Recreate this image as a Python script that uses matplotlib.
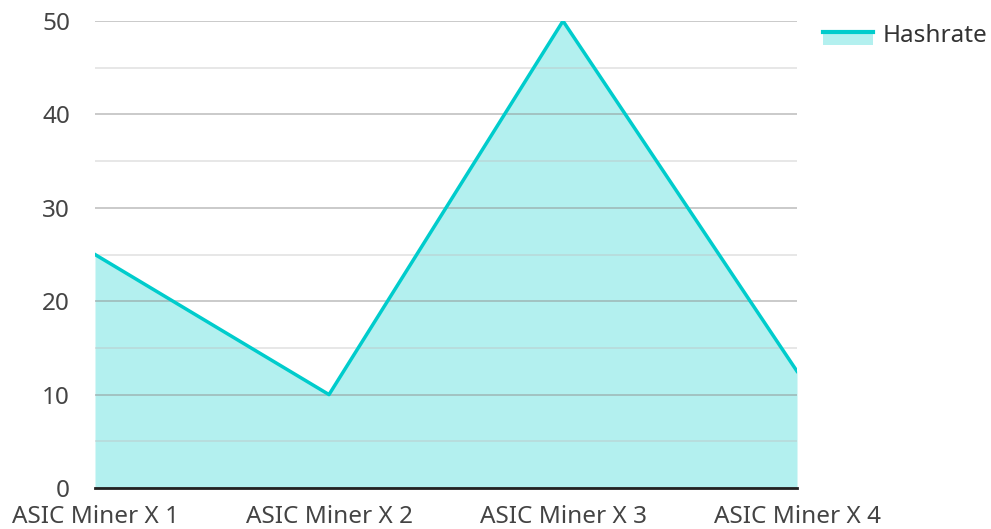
import matplotlib
matplotlib.use('Agg')
import matplotlib.pyplot as plt
import matplotlib.patches as mpatches
from matplotlib.lines import Line2D
from matplotlib.legend_handler import HandlerBase
from matplotlib.ticker import MultipleLocator

plt.rcParams['font.family'] = ['Noto Sans', 'DejaVu Sans']

categories = ['ASIC Miner X 1', 'ASIC Miner X 2', 'ASIC Miner X 3', 'ASIC Miner X 4']
hashrate = [25, 10, 50, 12.5]

LINE = '#00cccc'
FILL = '#b3f0ef'


class AreaHandler(HandlerBase):
    # line on top edge of a filled block, like the reference legend
    def create_artists(self, legend, orig, xd, yd, w, h, fontsize, trans):
        rect = mpatches.Rectangle((xd, yd - h * 0.2), w, h * 0.9,
                                  facecolor=FILL, edgecolor='none', transform=trans)
        ln = Line2D([xd, xd + w], [yd + h * 0.6, yd + h * 0.6],
                    color=LINE, lw=3, transform=trans)
        return [rect, ln]


fig = plt.figure(figsize=(9.91, 5.29), dpi=100)
ax = fig.add_axes([95 / 991, 41 / 529, 702 / 991, 467 / 529])

x = list(range(len(categories)))
ax.fill_between(x, hashrate, 0, color=FILL, lw=0, zorder=1)
line, = ax.plot(x, hashrate, color=LINE, lw=2.5, zorder=4)

ax.set_xlim(0, len(categories) - 1)
ax.set_ylim(0, 50)
ax.yaxis.set_major_locator(MultipleLocator(10))
ax.yaxis.set_minor_locator(MultipleLocator(5))
ax.set_axisbelow(False)
ax.grid(True, axis='y', which='major', color='#8e8e8e', alpha=0.55, lw=1.2, zorder=3)
ax.grid(True, axis='y', which='minor', color='#c0c0c0', alpha=0.45, lw=1.2, zorder=3)

ax.set_xticks(x)
ax.set_xticklabels(categories)
ax.tick_params(axis='both', which='both', length=0, labelsize=17.5, colors='#444444')
ax.tick_params(axis='y', pad=18)
ax.tick_params(axis='x', pad=12)

for s in ['top', 'right', 'left']:
    ax.spines[s].set_visible(False)
ax.spines['bottom'].set_color('#222222')
ax.spines['bottom'].set_linewidth(2)
ax.spines['bottom'].set_zorder(5)

fig.legend([line], ['Hashrate'], handler_map={line: AreaHandler()},
           loc='upper left', bbox_to_anchor=(801 / 991, 1 - 2 / 529),
           frameon=False, fontsize=17.5, handlelength=2.05, handletextpad=0.4,
           labelcolor='#333333')

fig.savefig('out.png', dpi=100)
